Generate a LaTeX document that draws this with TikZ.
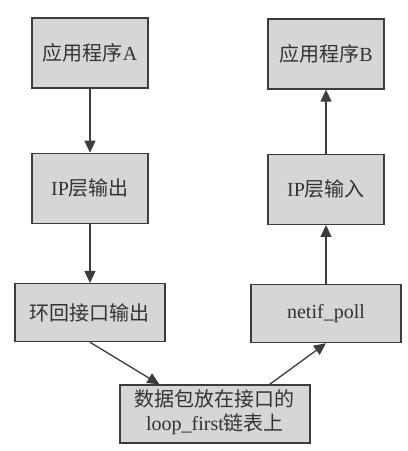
\documentclass[tikz,border=0pt]{standalone}
\usepackage{fontspec}
\setmainfont{Liberation Serif}
\newfontfamily\cjk{Noto Sans CJK SC}
\usetikzlibrary{shapes,arrows.meta,positioning}
\definecolor{boxfill}{RGB}{214,214,214}
\definecolor{boxline}{RGB}{60,60,60}
\tikzstyle{grayblock} = [rectangle, minimum width=116pt, minimum height=70pt, text centered, draw=boxline, line width=1.3pt, fill=boxfill, text=black!80, font=\fontsize{20}{24}\selectfont]
\tikzstyle{wideblock} = [grayblock, minimum width=150pt, minimum height=58pt]
\tikzstyle{queueblock} = [grayblock, minimum width=190pt, minimum height=58pt, inner sep=0pt]
\tikzstyle{arrow} = [line width=1.3pt, draw=boxline, -{Triangle[length=12pt, width=11pt]}]

\begin{document}
\begin{tikzpicture}[x=1pt, y=-1pt]
        \useasboundingbox (0,0) rectangle (408,451);
        \node (appA) [grayblock] at (90,53) {{\cjk 应用程序}A};
        \node (ipout) [grayblock, below=64pt of appA] {IP{\cjk 层输出}};
        \node (loopout) [wideblock, below=59pt of ipout] {\cjk 环回接口输出};
        \node (appB) [grayblock] at (326,54) {{\cjk 应用程序}B};
        \node (ipin) [grayblock, below=64pt of appB] {IP{\cjk 层输入}};
        \node (netif) [wideblock, below=59pt of ipin] {netif\_poll};
        \node (loopq) [queueblock] at (215,414) {\begin{tabular}{@{}c@{}}{\cjk 数据包放在接口的}\\\rmfamily loop\_first{\cjk 链表上}\end{tabular}};

        \draw [arrow] (appA) -- (ipout);
        \draw [arrow] (ipout) -- (loopout);
        \draw [arrow] (loopout.south) -- ([xshift=40pt]loopq.north west);
        \draw [arrow] ([xshift=-41pt]loopq.north east) -- (netif.south);
        \draw [arrow] (netif) -- (ipin);
        \draw [arrow] (ipin) -- (appB);
    \end{tikzpicture}
\end{document}
